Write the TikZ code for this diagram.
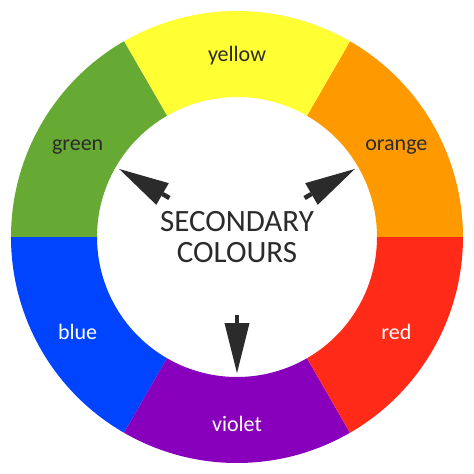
\documentclass[tikz,border=0pt]{standalone}
\usepackage{fontspec}
\setmainfont{Carlito}
\usetikzlibrary{arrows.meta}
\definecolor{cyellow}{HTML}{FFFF33}
\definecolor{corange}{HTML}{FF9900}
\definecolor{cred}{HTML}{FF2A18}
\definecolor{cviolet}{HTML}{8800BB}
\definecolor{cblue}{HTML}{0044FF}
\definecolor{cgreen}{HTML}{66AA33}
\definecolor{cdark}{HTML}{2B2B2B}
\begin{document}
\begin{tikzpicture}[x=1pt,y=1pt,>={Triangle[length=50pt,width=25pt,line width=0pt]},
  lbl/.style={font=\fontsize{22}{26}\selectfont,yshift=-2.5pt}]
\useasboundingbox (-237,-237) rectangle (237,237);
\fill[white](-237,-237) rectangle (237,237);
\foreach \a/\c in {0/corange,60/cyellow,120/cgreen,180/cblue,240/cviolet,300/cred}
  \fill[\c](\a:226) arc[start angle=\a, end angle=\a+60, radius=226]--(\a+60:140) arc[start angle=\a+60, end angle=\a, radius=140]--cycle;
\node[lbl,text=cdark](yellowlbl) at (90:184){yellow};
\node[lbl,text=cdark](orangelbl) at (30:184){orange};
\node[lbl,text=white](redlbl) at (-30:184){red};
\node[lbl,text=white](violetlbl) at (-90:184){violet};
\node[lbl,text=white](bluelbl) at (-150:184){blue};
\node[lbl,text=cdark](greenlbl) at (150:184){green};
\node[align=center,text=cdark,font=\fontsize{31}{31}\selectfont](title) at (0,0){SECONDARY\\COLOURS};
\coordinate (gs) at (150:78); \coordinate (gt) at (150:136);
\coordinate (os) at (30:78); \coordinate (ot) at (30:136);
\coordinate (vs) at (-90:78); \coordinate (vt) at (-90:136);
\draw[->,line width=4.5pt,cdark](gs)--(gt);
\draw[->,line width=4.5pt,cdark](os)--(ot);
\draw[->,line width=4.5pt,cdark](vs)--(vt);
\end{tikzpicture}
\end{document}
